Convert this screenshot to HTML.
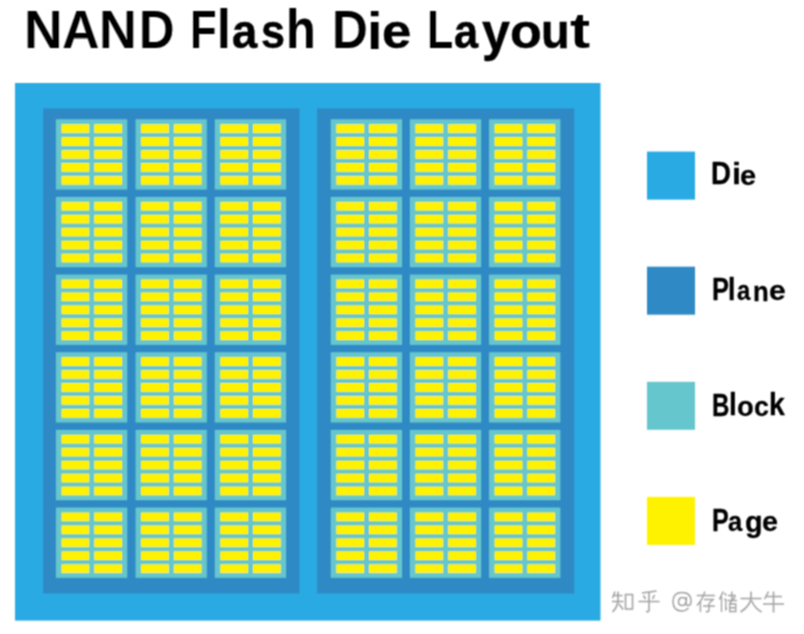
<!DOCTYPE html>
<html><head><meta charset="utf-8">
<style>
html,body{margin:0;padding:0;background:#fff;}
body{width:804px;height:634px;position:relative;overflow:hidden;font-family:"Liberation Sans",sans-serif;}
svg{position:absolute;left:0;top:0;}
.t{position:absolute;white-space:nowrap;color:#000;font-weight:bold;line-height:1;transform-origin:0 0;}
.k{-webkit-text-stroke:0.1px #fff;}
.m{-webkit-text-stroke:0.3px #000;}
.m2{-webkit-text-stroke:0.5px #000;}
#wrap{position:absolute;left:0;top:0;width:804px;height:634px;filter:url(#bl);}
</style></head><body>
<svg width="0" height="0" style="position:absolute;left:0;top:0"><defs><filter id="bl" x="0" y="0" width="804" height="634" filterUnits="userSpaceOnUse"><feConvolveMatrix order="3" kernelMatrix="1 2 1 2 4 2 1 2 1" divisor="16" edgeMode="duplicate"/></filter></defs></svg>
<div id="wrap">
<svg width="804" height="634" viewBox="0 0 804 634" shape-rendering="geometricPrecision">
<rect x="15.00" y="83.00" width="585.50" height="537.60" fill="#29AAE2"/>
<rect x="43.00" y="108.40" width="256.50" height="485.10" fill="#2E89C4"/>
<rect x="317.00" y="108.40" width="257.20" height="485.10" fill="#2E89C4"/>
<rect x="56.00" y="119.30" width="71.20" height="70.20" fill="#66C6CE"/>
<rect x="56.00" y="196.96" width="71.20" height="70.20" fill="#66C6CE"/>
<rect x="56.00" y="274.62" width="71.20" height="70.20" fill="#66C6CE"/>
<rect x="56.00" y="352.28" width="71.20" height="70.20" fill="#66C6CE"/>
<rect x="56.00" y="429.94" width="71.20" height="70.20" fill="#66C6CE"/>
<rect x="56.00" y="507.60" width="71.20" height="70.20" fill="#66C6CE"/>
<rect x="135.60" y="119.30" width="71.20" height="70.20" fill="#66C6CE"/>
<rect x="135.60" y="196.96" width="71.20" height="70.20" fill="#66C6CE"/>
<rect x="135.60" y="274.62" width="71.20" height="70.20" fill="#66C6CE"/>
<rect x="135.60" y="352.28" width="71.20" height="70.20" fill="#66C6CE"/>
<rect x="135.60" y="429.94" width="71.20" height="70.20" fill="#66C6CE"/>
<rect x="135.60" y="507.60" width="71.20" height="70.20" fill="#66C6CE"/>
<rect x="214.80" y="119.30" width="71.20" height="70.20" fill="#66C6CE"/>
<rect x="214.80" y="196.96" width="71.20" height="70.20" fill="#66C6CE"/>
<rect x="214.80" y="274.62" width="71.20" height="70.20" fill="#66C6CE"/>
<rect x="214.80" y="352.28" width="71.20" height="70.20" fill="#66C6CE"/>
<rect x="214.80" y="429.94" width="71.20" height="70.20" fill="#66C6CE"/>
<rect x="214.80" y="507.60" width="71.20" height="70.20" fill="#66C6CE"/>
<rect x="330.80" y="119.30" width="71.20" height="70.20" fill="#66C6CE"/>
<rect x="330.80" y="196.96" width="71.20" height="70.20" fill="#66C6CE"/>
<rect x="330.80" y="274.62" width="71.20" height="70.20" fill="#66C6CE"/>
<rect x="330.80" y="352.28" width="71.20" height="70.20" fill="#66C6CE"/>
<rect x="330.80" y="429.94" width="71.20" height="70.20" fill="#66C6CE"/>
<rect x="330.80" y="507.60" width="71.20" height="70.20" fill="#66C6CE"/>
<rect x="409.90" y="119.30" width="71.20" height="70.20" fill="#66C6CE"/>
<rect x="409.90" y="196.96" width="71.20" height="70.20" fill="#66C6CE"/>
<rect x="409.90" y="274.62" width="71.20" height="70.20" fill="#66C6CE"/>
<rect x="409.90" y="352.28" width="71.20" height="70.20" fill="#66C6CE"/>
<rect x="409.90" y="429.94" width="71.20" height="70.20" fill="#66C6CE"/>
<rect x="409.90" y="507.60" width="71.20" height="70.20" fill="#66C6CE"/>
<rect x="489.10" y="119.30" width="71.20" height="70.20" fill="#66C6CE"/>
<rect x="489.10" y="196.96" width="71.20" height="70.20" fill="#66C6CE"/>
<rect x="489.10" y="274.62" width="71.20" height="70.20" fill="#66C6CE"/>
<rect x="489.10" y="352.28" width="71.20" height="70.20" fill="#66C6CE"/>
<rect x="489.10" y="429.94" width="71.20" height="70.20" fill="#66C6CE"/>
<rect x="489.10" y="507.60" width="71.20" height="70.20" fill="#66C6CE"/>
<rect x="61.50" y="124.15" width="27.80" height="8.80" fill="#FFF200"/>
<rect x="94.20" y="124.15" width="27.80" height="8.80" fill="#FFF200"/>
<rect x="61.50" y="137.10" width="27.80" height="8.80" fill="#FFF200"/>
<rect x="94.20" y="137.10" width="27.80" height="8.80" fill="#FFF200"/>
<rect x="61.50" y="150.05" width="27.80" height="8.80" fill="#FFF200"/>
<rect x="94.20" y="150.05" width="27.80" height="8.80" fill="#FFF200"/>
<rect x="61.50" y="163.00" width="27.80" height="8.80" fill="#FFF200"/>
<rect x="94.20" y="163.00" width="27.80" height="8.80" fill="#FFF200"/>
<rect x="61.50" y="175.95" width="27.80" height="8.80" fill="#FFF200"/>
<rect x="94.20" y="175.95" width="27.80" height="8.80" fill="#FFF200"/>
<rect x="61.50" y="201.81" width="27.80" height="8.80" fill="#FFF200"/>
<rect x="94.20" y="201.81" width="27.80" height="8.80" fill="#FFF200"/>
<rect x="61.50" y="214.76" width="27.80" height="8.80" fill="#FFF200"/>
<rect x="94.20" y="214.76" width="27.80" height="8.80" fill="#FFF200"/>
<rect x="61.50" y="227.71" width="27.80" height="8.80" fill="#FFF200"/>
<rect x="94.20" y="227.71" width="27.80" height="8.80" fill="#FFF200"/>
<rect x="61.50" y="240.66" width="27.80" height="8.80" fill="#FFF200"/>
<rect x="94.20" y="240.66" width="27.80" height="8.80" fill="#FFF200"/>
<rect x="61.50" y="253.61" width="27.80" height="8.80" fill="#FFF200"/>
<rect x="94.20" y="253.61" width="27.80" height="8.80" fill="#FFF200"/>
<rect x="61.50" y="279.47" width="27.80" height="8.80" fill="#FFF200"/>
<rect x="94.20" y="279.47" width="27.80" height="8.80" fill="#FFF200"/>
<rect x="61.50" y="292.42" width="27.80" height="8.80" fill="#FFF200"/>
<rect x="94.20" y="292.42" width="27.80" height="8.80" fill="#FFF200"/>
<rect x="61.50" y="305.37" width="27.80" height="8.80" fill="#FFF200"/>
<rect x="94.20" y="305.37" width="27.80" height="8.80" fill="#FFF200"/>
<rect x="61.50" y="318.32" width="27.80" height="8.80" fill="#FFF200"/>
<rect x="94.20" y="318.32" width="27.80" height="8.80" fill="#FFF200"/>
<rect x="61.50" y="331.27" width="27.80" height="8.80" fill="#FFF200"/>
<rect x="94.20" y="331.27" width="27.80" height="8.80" fill="#FFF200"/>
<rect x="61.50" y="357.13" width="27.80" height="8.80" fill="#FFF200"/>
<rect x="94.20" y="357.13" width="27.80" height="8.80" fill="#FFF200"/>
<rect x="61.50" y="370.08" width="27.80" height="8.80" fill="#FFF200"/>
<rect x="94.20" y="370.08" width="27.80" height="8.80" fill="#FFF200"/>
<rect x="61.50" y="383.03" width="27.80" height="8.80" fill="#FFF200"/>
<rect x="94.20" y="383.03" width="27.80" height="8.80" fill="#FFF200"/>
<rect x="61.50" y="395.98" width="27.80" height="8.80" fill="#FFF200"/>
<rect x="94.20" y="395.98" width="27.80" height="8.80" fill="#FFF200"/>
<rect x="61.50" y="408.93" width="27.80" height="8.80" fill="#FFF200"/>
<rect x="94.20" y="408.93" width="27.80" height="8.80" fill="#FFF200"/>
<rect x="61.50" y="434.79" width="27.80" height="8.80" fill="#FFF200"/>
<rect x="94.20" y="434.79" width="27.80" height="8.80" fill="#FFF200"/>
<rect x="61.50" y="447.74" width="27.80" height="8.80" fill="#FFF200"/>
<rect x="94.20" y="447.74" width="27.80" height="8.80" fill="#FFF200"/>
<rect x="61.50" y="460.69" width="27.80" height="8.80" fill="#FFF200"/>
<rect x="94.20" y="460.69" width="27.80" height="8.80" fill="#FFF200"/>
<rect x="61.50" y="473.64" width="27.80" height="8.80" fill="#FFF200"/>
<rect x="94.20" y="473.64" width="27.80" height="8.80" fill="#FFF200"/>
<rect x="61.50" y="486.59" width="27.80" height="8.80" fill="#FFF200"/>
<rect x="94.20" y="486.59" width="27.80" height="8.80" fill="#FFF200"/>
<rect x="61.50" y="512.45" width="27.80" height="8.80" fill="#FFF200"/>
<rect x="94.20" y="512.45" width="27.80" height="8.80" fill="#FFF200"/>
<rect x="61.50" y="525.40" width="27.80" height="8.80" fill="#FFF200"/>
<rect x="94.20" y="525.40" width="27.80" height="8.80" fill="#FFF200"/>
<rect x="61.50" y="538.35" width="27.80" height="8.80" fill="#FFF200"/>
<rect x="94.20" y="538.35" width="27.80" height="8.80" fill="#FFF200"/>
<rect x="61.50" y="551.30" width="27.80" height="8.80" fill="#FFF200"/>
<rect x="94.20" y="551.30" width="27.80" height="8.80" fill="#FFF200"/>
<rect x="61.50" y="564.25" width="27.80" height="8.80" fill="#FFF200"/>
<rect x="94.20" y="564.25" width="27.80" height="8.80" fill="#FFF200"/>
<rect x="141.10" y="124.15" width="27.80" height="8.80" fill="#FFF200"/>
<rect x="173.80" y="124.15" width="27.80" height="8.80" fill="#FFF200"/>
<rect x="141.10" y="137.10" width="27.80" height="8.80" fill="#FFF200"/>
<rect x="173.80" y="137.10" width="27.80" height="8.80" fill="#FFF200"/>
<rect x="141.10" y="150.05" width="27.80" height="8.80" fill="#FFF200"/>
<rect x="173.80" y="150.05" width="27.80" height="8.80" fill="#FFF200"/>
<rect x="141.10" y="163.00" width="27.80" height="8.80" fill="#FFF200"/>
<rect x="173.80" y="163.00" width="27.80" height="8.80" fill="#FFF200"/>
<rect x="141.10" y="175.95" width="27.80" height="8.80" fill="#FFF200"/>
<rect x="173.80" y="175.95" width="27.80" height="8.80" fill="#FFF200"/>
<rect x="141.10" y="201.81" width="27.80" height="8.80" fill="#FFF200"/>
<rect x="173.80" y="201.81" width="27.80" height="8.80" fill="#FFF200"/>
<rect x="141.10" y="214.76" width="27.80" height="8.80" fill="#FFF200"/>
<rect x="173.80" y="214.76" width="27.80" height="8.80" fill="#FFF200"/>
<rect x="141.10" y="227.71" width="27.80" height="8.80" fill="#FFF200"/>
<rect x="173.80" y="227.71" width="27.80" height="8.80" fill="#FFF200"/>
<rect x="141.10" y="240.66" width="27.80" height="8.80" fill="#FFF200"/>
<rect x="173.80" y="240.66" width="27.80" height="8.80" fill="#FFF200"/>
<rect x="141.10" y="253.61" width="27.80" height="8.80" fill="#FFF200"/>
<rect x="173.80" y="253.61" width="27.80" height="8.80" fill="#FFF200"/>
<rect x="141.10" y="279.47" width="27.80" height="8.80" fill="#FFF200"/>
<rect x="173.80" y="279.47" width="27.80" height="8.80" fill="#FFF200"/>
<rect x="141.10" y="292.42" width="27.80" height="8.80" fill="#FFF200"/>
<rect x="173.80" y="292.42" width="27.80" height="8.80" fill="#FFF200"/>
<rect x="141.10" y="305.37" width="27.80" height="8.80" fill="#FFF200"/>
<rect x="173.80" y="305.37" width="27.80" height="8.80" fill="#FFF200"/>
<rect x="141.10" y="318.32" width="27.80" height="8.80" fill="#FFF200"/>
<rect x="173.80" y="318.32" width="27.80" height="8.80" fill="#FFF200"/>
<rect x="141.10" y="331.27" width="27.80" height="8.80" fill="#FFF200"/>
<rect x="173.80" y="331.27" width="27.80" height="8.80" fill="#FFF200"/>
<rect x="141.10" y="357.13" width="27.80" height="8.80" fill="#FFF200"/>
<rect x="173.80" y="357.13" width="27.80" height="8.80" fill="#FFF200"/>
<rect x="141.10" y="370.08" width="27.80" height="8.80" fill="#FFF200"/>
<rect x="173.80" y="370.08" width="27.80" height="8.80" fill="#FFF200"/>
<rect x="141.10" y="383.03" width="27.80" height="8.80" fill="#FFF200"/>
<rect x="173.80" y="383.03" width="27.80" height="8.80" fill="#FFF200"/>
<rect x="141.10" y="395.98" width="27.80" height="8.80" fill="#FFF200"/>
<rect x="173.80" y="395.98" width="27.80" height="8.80" fill="#FFF200"/>
<rect x="141.10" y="408.93" width="27.80" height="8.80" fill="#FFF200"/>
<rect x="173.80" y="408.93" width="27.80" height="8.80" fill="#FFF200"/>
<rect x="141.10" y="434.79" width="27.80" height="8.80" fill="#FFF200"/>
<rect x="173.80" y="434.79" width="27.80" height="8.80" fill="#FFF200"/>
<rect x="141.10" y="447.74" width="27.80" height="8.80" fill="#FFF200"/>
<rect x="173.80" y="447.74" width="27.80" height="8.80" fill="#FFF200"/>
<rect x="141.10" y="460.69" width="27.80" height="8.80" fill="#FFF200"/>
<rect x="173.80" y="460.69" width="27.80" height="8.80" fill="#FFF200"/>
<rect x="141.10" y="473.64" width="27.80" height="8.80" fill="#FFF200"/>
<rect x="173.80" y="473.64" width="27.80" height="8.80" fill="#FFF200"/>
<rect x="141.10" y="486.59" width="27.80" height="8.80" fill="#FFF200"/>
<rect x="173.80" y="486.59" width="27.80" height="8.80" fill="#FFF200"/>
<rect x="141.10" y="512.45" width="27.80" height="8.80" fill="#FFF200"/>
<rect x="173.80" y="512.45" width="27.80" height="8.80" fill="#FFF200"/>
<rect x="141.10" y="525.40" width="27.80" height="8.80" fill="#FFF200"/>
<rect x="173.80" y="525.40" width="27.80" height="8.80" fill="#FFF200"/>
<rect x="141.10" y="538.35" width="27.80" height="8.80" fill="#FFF200"/>
<rect x="173.80" y="538.35" width="27.80" height="8.80" fill="#FFF200"/>
<rect x="141.10" y="551.30" width="27.80" height="8.80" fill="#FFF200"/>
<rect x="173.80" y="551.30" width="27.80" height="8.80" fill="#FFF200"/>
<rect x="141.10" y="564.25" width="27.80" height="8.80" fill="#FFF200"/>
<rect x="173.80" y="564.25" width="27.80" height="8.80" fill="#FFF200"/>
<rect x="220.30" y="124.15" width="27.80" height="8.80" fill="#FFF200"/>
<rect x="253.00" y="124.15" width="27.80" height="8.80" fill="#FFF200"/>
<rect x="220.30" y="137.10" width="27.80" height="8.80" fill="#FFF200"/>
<rect x="253.00" y="137.10" width="27.80" height="8.80" fill="#FFF200"/>
<rect x="220.30" y="150.05" width="27.80" height="8.80" fill="#FFF200"/>
<rect x="253.00" y="150.05" width="27.80" height="8.80" fill="#FFF200"/>
<rect x="220.30" y="163.00" width="27.80" height="8.80" fill="#FFF200"/>
<rect x="253.00" y="163.00" width="27.80" height="8.80" fill="#FFF200"/>
<rect x="220.30" y="175.95" width="27.80" height="8.80" fill="#FFF200"/>
<rect x="253.00" y="175.95" width="27.80" height="8.80" fill="#FFF200"/>
<rect x="220.30" y="201.81" width="27.80" height="8.80" fill="#FFF200"/>
<rect x="253.00" y="201.81" width="27.80" height="8.80" fill="#FFF200"/>
<rect x="220.30" y="214.76" width="27.80" height="8.80" fill="#FFF200"/>
<rect x="253.00" y="214.76" width="27.80" height="8.80" fill="#FFF200"/>
<rect x="220.30" y="227.71" width="27.80" height="8.80" fill="#FFF200"/>
<rect x="253.00" y="227.71" width="27.80" height="8.80" fill="#FFF200"/>
<rect x="220.30" y="240.66" width="27.80" height="8.80" fill="#FFF200"/>
<rect x="253.00" y="240.66" width="27.80" height="8.80" fill="#FFF200"/>
<rect x="220.30" y="253.61" width="27.80" height="8.80" fill="#FFF200"/>
<rect x="253.00" y="253.61" width="27.80" height="8.80" fill="#FFF200"/>
<rect x="220.30" y="279.47" width="27.80" height="8.80" fill="#FFF200"/>
<rect x="253.00" y="279.47" width="27.80" height="8.80" fill="#FFF200"/>
<rect x="220.30" y="292.42" width="27.80" height="8.80" fill="#FFF200"/>
<rect x="253.00" y="292.42" width="27.80" height="8.80" fill="#FFF200"/>
<rect x="220.30" y="305.37" width="27.80" height="8.80" fill="#FFF200"/>
<rect x="253.00" y="305.37" width="27.80" height="8.80" fill="#FFF200"/>
<rect x="220.30" y="318.32" width="27.80" height="8.80" fill="#FFF200"/>
<rect x="253.00" y="318.32" width="27.80" height="8.80" fill="#FFF200"/>
<rect x="220.30" y="331.27" width="27.80" height="8.80" fill="#FFF200"/>
<rect x="253.00" y="331.27" width="27.80" height="8.80" fill="#FFF200"/>
<rect x="220.30" y="357.13" width="27.80" height="8.80" fill="#FFF200"/>
<rect x="253.00" y="357.13" width="27.80" height="8.80" fill="#FFF200"/>
<rect x="220.30" y="370.08" width="27.80" height="8.80" fill="#FFF200"/>
<rect x="253.00" y="370.08" width="27.80" height="8.80" fill="#FFF200"/>
<rect x="220.30" y="383.03" width="27.80" height="8.80" fill="#FFF200"/>
<rect x="253.00" y="383.03" width="27.80" height="8.80" fill="#FFF200"/>
<rect x="220.30" y="395.98" width="27.80" height="8.80" fill="#FFF200"/>
<rect x="253.00" y="395.98" width="27.80" height="8.80" fill="#FFF200"/>
<rect x="220.30" y="408.93" width="27.80" height="8.80" fill="#FFF200"/>
<rect x="253.00" y="408.93" width="27.80" height="8.80" fill="#FFF200"/>
<rect x="220.30" y="434.79" width="27.80" height="8.80" fill="#FFF200"/>
<rect x="253.00" y="434.79" width="27.80" height="8.80" fill="#FFF200"/>
<rect x="220.30" y="447.74" width="27.80" height="8.80" fill="#FFF200"/>
<rect x="253.00" y="447.74" width="27.80" height="8.80" fill="#FFF200"/>
<rect x="220.30" y="460.69" width="27.80" height="8.80" fill="#FFF200"/>
<rect x="253.00" y="460.69" width="27.80" height="8.80" fill="#FFF200"/>
<rect x="220.30" y="473.64" width="27.80" height="8.80" fill="#FFF200"/>
<rect x="253.00" y="473.64" width="27.80" height="8.80" fill="#FFF200"/>
<rect x="220.30" y="486.59" width="27.80" height="8.80" fill="#FFF200"/>
<rect x="253.00" y="486.59" width="27.80" height="8.80" fill="#FFF200"/>
<rect x="220.30" y="512.45" width="27.80" height="8.80" fill="#FFF200"/>
<rect x="253.00" y="512.45" width="27.80" height="8.80" fill="#FFF200"/>
<rect x="220.30" y="525.40" width="27.80" height="8.80" fill="#FFF200"/>
<rect x="253.00" y="525.40" width="27.80" height="8.80" fill="#FFF200"/>
<rect x="220.30" y="538.35" width="27.80" height="8.80" fill="#FFF200"/>
<rect x="253.00" y="538.35" width="27.80" height="8.80" fill="#FFF200"/>
<rect x="220.30" y="551.30" width="27.80" height="8.80" fill="#FFF200"/>
<rect x="253.00" y="551.30" width="27.80" height="8.80" fill="#FFF200"/>
<rect x="220.30" y="564.25" width="27.80" height="8.80" fill="#FFF200"/>
<rect x="253.00" y="564.25" width="27.80" height="8.80" fill="#FFF200"/>
<rect x="336.30" y="124.15" width="27.80" height="8.80" fill="#FFF200"/>
<rect x="369.00" y="124.15" width="27.80" height="8.80" fill="#FFF200"/>
<rect x="336.30" y="137.10" width="27.80" height="8.80" fill="#FFF200"/>
<rect x="369.00" y="137.10" width="27.80" height="8.80" fill="#FFF200"/>
<rect x="336.30" y="150.05" width="27.80" height="8.80" fill="#FFF200"/>
<rect x="369.00" y="150.05" width="27.80" height="8.80" fill="#FFF200"/>
<rect x="336.30" y="163.00" width="27.80" height="8.80" fill="#FFF200"/>
<rect x="369.00" y="163.00" width="27.80" height="8.80" fill="#FFF200"/>
<rect x="336.30" y="175.95" width="27.80" height="8.80" fill="#FFF200"/>
<rect x="369.00" y="175.95" width="27.80" height="8.80" fill="#FFF200"/>
<rect x="336.30" y="201.81" width="27.80" height="8.80" fill="#FFF200"/>
<rect x="369.00" y="201.81" width="27.80" height="8.80" fill="#FFF200"/>
<rect x="336.30" y="214.76" width="27.80" height="8.80" fill="#FFF200"/>
<rect x="369.00" y="214.76" width="27.80" height="8.80" fill="#FFF200"/>
<rect x="336.30" y="227.71" width="27.80" height="8.80" fill="#FFF200"/>
<rect x="369.00" y="227.71" width="27.80" height="8.80" fill="#FFF200"/>
<rect x="336.30" y="240.66" width="27.80" height="8.80" fill="#FFF200"/>
<rect x="369.00" y="240.66" width="27.80" height="8.80" fill="#FFF200"/>
<rect x="336.30" y="253.61" width="27.80" height="8.80" fill="#FFF200"/>
<rect x="369.00" y="253.61" width="27.80" height="8.80" fill="#FFF200"/>
<rect x="336.30" y="279.47" width="27.80" height="8.80" fill="#FFF200"/>
<rect x="369.00" y="279.47" width="27.80" height="8.80" fill="#FFF200"/>
<rect x="336.30" y="292.42" width="27.80" height="8.80" fill="#FFF200"/>
<rect x="369.00" y="292.42" width="27.80" height="8.80" fill="#FFF200"/>
<rect x="336.30" y="305.37" width="27.80" height="8.80" fill="#FFF200"/>
<rect x="369.00" y="305.37" width="27.80" height="8.80" fill="#FFF200"/>
<rect x="336.30" y="318.32" width="27.80" height="8.80" fill="#FFF200"/>
<rect x="369.00" y="318.32" width="27.80" height="8.80" fill="#FFF200"/>
<rect x="336.30" y="331.27" width="27.80" height="8.80" fill="#FFF200"/>
<rect x="369.00" y="331.27" width="27.80" height="8.80" fill="#FFF200"/>
<rect x="336.30" y="357.13" width="27.80" height="8.80" fill="#FFF200"/>
<rect x="369.00" y="357.13" width="27.80" height="8.80" fill="#FFF200"/>
<rect x="336.30" y="370.08" width="27.80" height="8.80" fill="#FFF200"/>
<rect x="369.00" y="370.08" width="27.80" height="8.80" fill="#FFF200"/>
<rect x="336.30" y="383.03" width="27.80" height="8.80" fill="#FFF200"/>
<rect x="369.00" y="383.03" width="27.80" height="8.80" fill="#FFF200"/>
<rect x="336.30" y="395.98" width="27.80" height="8.80" fill="#FFF200"/>
<rect x="369.00" y="395.98" width="27.80" height="8.80" fill="#FFF200"/>
<rect x="336.30" y="408.93" width="27.80" height="8.80" fill="#FFF200"/>
<rect x="369.00" y="408.93" width="27.80" height="8.80" fill="#FFF200"/>
<rect x="336.30" y="434.79" width="27.80" height="8.80" fill="#FFF200"/>
<rect x="369.00" y="434.79" width="27.80" height="8.80" fill="#FFF200"/>
<rect x="336.30" y="447.74" width="27.80" height="8.80" fill="#FFF200"/>
<rect x="369.00" y="447.74" width="27.80" height="8.80" fill="#FFF200"/>
<rect x="336.30" y="460.69" width="27.80" height="8.80" fill="#FFF200"/>
<rect x="369.00" y="460.69" width="27.80" height="8.80" fill="#FFF200"/>
<rect x="336.30" y="473.64" width="27.80" height="8.80" fill="#FFF200"/>
<rect x="369.00" y="473.64" width="27.80" height="8.80" fill="#FFF200"/>
<rect x="336.30" y="486.59" width="27.80" height="8.80" fill="#FFF200"/>
<rect x="369.00" y="486.59" width="27.80" height="8.80" fill="#FFF200"/>
<rect x="336.30" y="512.45" width="27.80" height="8.80" fill="#FFF200"/>
<rect x="369.00" y="512.45" width="27.80" height="8.80" fill="#FFF200"/>
<rect x="336.30" y="525.40" width="27.80" height="8.80" fill="#FFF200"/>
<rect x="369.00" y="525.40" width="27.80" height="8.80" fill="#FFF200"/>
<rect x="336.30" y="538.35" width="27.80" height="8.80" fill="#FFF200"/>
<rect x="369.00" y="538.35" width="27.80" height="8.80" fill="#FFF200"/>
<rect x="336.30" y="551.30" width="27.80" height="8.80" fill="#FFF200"/>
<rect x="369.00" y="551.30" width="27.80" height="8.80" fill="#FFF200"/>
<rect x="336.30" y="564.25" width="27.80" height="8.80" fill="#FFF200"/>
<rect x="369.00" y="564.25" width="27.80" height="8.80" fill="#FFF200"/>
<rect x="415.40" y="124.15" width="27.80" height="8.80" fill="#FFF200"/>
<rect x="448.10" y="124.15" width="27.80" height="8.80" fill="#FFF200"/>
<rect x="415.40" y="137.10" width="27.80" height="8.80" fill="#FFF200"/>
<rect x="448.10" y="137.10" width="27.80" height="8.80" fill="#FFF200"/>
<rect x="415.40" y="150.05" width="27.80" height="8.80" fill="#FFF200"/>
<rect x="448.10" y="150.05" width="27.80" height="8.80" fill="#FFF200"/>
<rect x="415.40" y="163.00" width="27.80" height="8.80" fill="#FFF200"/>
<rect x="448.10" y="163.00" width="27.80" height="8.80" fill="#FFF200"/>
<rect x="415.40" y="175.95" width="27.80" height="8.80" fill="#FFF200"/>
<rect x="448.10" y="175.95" width="27.80" height="8.80" fill="#FFF200"/>
<rect x="415.40" y="201.81" width="27.80" height="8.80" fill="#FFF200"/>
<rect x="448.10" y="201.81" width="27.80" height="8.80" fill="#FFF200"/>
<rect x="415.40" y="214.76" width="27.80" height="8.80" fill="#FFF200"/>
<rect x="448.10" y="214.76" width="27.80" height="8.80" fill="#FFF200"/>
<rect x="415.40" y="227.71" width="27.80" height="8.80" fill="#FFF200"/>
<rect x="448.10" y="227.71" width="27.80" height="8.80" fill="#FFF200"/>
<rect x="415.40" y="240.66" width="27.80" height="8.80" fill="#FFF200"/>
<rect x="448.10" y="240.66" width="27.80" height="8.80" fill="#FFF200"/>
<rect x="415.40" y="253.61" width="27.80" height="8.80" fill="#FFF200"/>
<rect x="448.10" y="253.61" width="27.80" height="8.80" fill="#FFF200"/>
<rect x="415.40" y="279.47" width="27.80" height="8.80" fill="#FFF200"/>
<rect x="448.10" y="279.47" width="27.80" height="8.80" fill="#FFF200"/>
<rect x="415.40" y="292.42" width="27.80" height="8.80" fill="#FFF200"/>
<rect x="448.10" y="292.42" width="27.80" height="8.80" fill="#FFF200"/>
<rect x="415.40" y="305.37" width="27.80" height="8.80" fill="#FFF200"/>
<rect x="448.10" y="305.37" width="27.80" height="8.80" fill="#FFF200"/>
<rect x="415.40" y="318.32" width="27.80" height="8.80" fill="#FFF200"/>
<rect x="448.10" y="318.32" width="27.80" height="8.80" fill="#FFF200"/>
<rect x="415.40" y="331.27" width="27.80" height="8.80" fill="#FFF200"/>
<rect x="448.10" y="331.27" width="27.80" height="8.80" fill="#FFF200"/>
<rect x="415.40" y="357.13" width="27.80" height="8.80" fill="#FFF200"/>
<rect x="448.10" y="357.13" width="27.80" height="8.80" fill="#FFF200"/>
<rect x="415.40" y="370.08" width="27.80" height="8.80" fill="#FFF200"/>
<rect x="448.10" y="370.08" width="27.80" height="8.80" fill="#FFF200"/>
<rect x="415.40" y="383.03" width="27.80" height="8.80" fill="#FFF200"/>
<rect x="448.10" y="383.03" width="27.80" height="8.80" fill="#FFF200"/>
<rect x="415.40" y="395.98" width="27.80" height="8.80" fill="#FFF200"/>
<rect x="448.10" y="395.98" width="27.80" height="8.80" fill="#FFF200"/>
<rect x="415.40" y="408.93" width="27.80" height="8.80" fill="#FFF200"/>
<rect x="448.10" y="408.93" width="27.80" height="8.80" fill="#FFF200"/>
<rect x="415.40" y="434.79" width="27.80" height="8.80" fill="#FFF200"/>
<rect x="448.10" y="434.79" width="27.80" height="8.80" fill="#FFF200"/>
<rect x="415.40" y="447.74" width="27.80" height="8.80" fill="#FFF200"/>
<rect x="448.10" y="447.74" width="27.80" height="8.80" fill="#FFF200"/>
<rect x="415.40" y="460.69" width="27.80" height="8.80" fill="#FFF200"/>
<rect x="448.10" y="460.69" width="27.80" height="8.80" fill="#FFF200"/>
<rect x="415.40" y="473.64" width="27.80" height="8.80" fill="#FFF200"/>
<rect x="448.10" y="473.64" width="27.80" height="8.80" fill="#FFF200"/>
<rect x="415.40" y="486.59" width="27.80" height="8.80" fill="#FFF200"/>
<rect x="448.10" y="486.59" width="27.80" height="8.80" fill="#FFF200"/>
<rect x="415.40" y="512.45" width="27.80" height="8.80" fill="#FFF200"/>
<rect x="448.10" y="512.45" width="27.80" height="8.80" fill="#FFF200"/>
<rect x="415.40" y="525.40" width="27.80" height="8.80" fill="#FFF200"/>
<rect x="448.10" y="525.40" width="27.80" height="8.80" fill="#FFF200"/>
<rect x="415.40" y="538.35" width="27.80" height="8.80" fill="#FFF200"/>
<rect x="448.10" y="538.35" width="27.80" height="8.80" fill="#FFF200"/>
<rect x="415.40" y="551.30" width="27.80" height="8.80" fill="#FFF200"/>
<rect x="448.10" y="551.30" width="27.80" height="8.80" fill="#FFF200"/>
<rect x="415.40" y="564.25" width="27.80" height="8.80" fill="#FFF200"/>
<rect x="448.10" y="564.25" width="27.80" height="8.80" fill="#FFF200"/>
<rect x="494.60" y="124.15" width="27.80" height="8.80" fill="#FFF200"/>
<rect x="527.30" y="124.15" width="27.80" height="8.80" fill="#FFF200"/>
<rect x="494.60" y="137.10" width="27.80" height="8.80" fill="#FFF200"/>
<rect x="527.30" y="137.10" width="27.80" height="8.80" fill="#FFF200"/>
<rect x="494.60" y="150.05" width="27.80" height="8.80" fill="#FFF200"/>
<rect x="527.30" y="150.05" width="27.80" height="8.80" fill="#FFF200"/>
<rect x="494.60" y="163.00" width="27.80" height="8.80" fill="#FFF200"/>
<rect x="527.30" y="163.00" width="27.80" height="8.80" fill="#FFF200"/>
<rect x="494.60" y="175.95" width="27.80" height="8.80" fill="#FFF200"/>
<rect x="527.30" y="175.95" width="27.80" height="8.80" fill="#FFF200"/>
<rect x="494.60" y="201.81" width="27.80" height="8.80" fill="#FFF200"/>
<rect x="527.30" y="201.81" width="27.80" height="8.80" fill="#FFF200"/>
<rect x="494.60" y="214.76" width="27.80" height="8.80" fill="#FFF200"/>
<rect x="527.30" y="214.76" width="27.80" height="8.80" fill="#FFF200"/>
<rect x="494.60" y="227.71" width="27.80" height="8.80" fill="#FFF200"/>
<rect x="527.30" y="227.71" width="27.80" height="8.80" fill="#FFF200"/>
<rect x="494.60" y="240.66" width="27.80" height="8.80" fill="#FFF200"/>
<rect x="527.30" y="240.66" width="27.80" height="8.80" fill="#FFF200"/>
<rect x="494.60" y="253.61" width="27.80" height="8.80" fill="#FFF200"/>
<rect x="527.30" y="253.61" width="27.80" height="8.80" fill="#FFF200"/>
<rect x="494.60" y="279.47" width="27.80" height="8.80" fill="#FFF200"/>
<rect x="527.30" y="279.47" width="27.80" height="8.80" fill="#FFF200"/>
<rect x="494.60" y="292.42" width="27.80" height="8.80" fill="#FFF200"/>
<rect x="527.30" y="292.42" width="27.80" height="8.80" fill="#FFF200"/>
<rect x="494.60" y="305.37" width="27.80" height="8.80" fill="#FFF200"/>
<rect x="527.30" y="305.37" width="27.80" height="8.80" fill="#FFF200"/>
<rect x="494.60" y="318.32" width="27.80" height="8.80" fill="#FFF200"/>
<rect x="527.30" y="318.32" width="27.80" height="8.80" fill="#FFF200"/>
<rect x="494.60" y="331.27" width="27.80" height="8.80" fill="#FFF200"/>
<rect x="527.30" y="331.27" width="27.80" height="8.80" fill="#FFF200"/>
<rect x="494.60" y="357.13" width="27.80" height="8.80" fill="#FFF200"/>
<rect x="527.30" y="357.13" width="27.80" height="8.80" fill="#FFF200"/>
<rect x="494.60" y="370.08" width="27.80" height="8.80" fill="#FFF200"/>
<rect x="527.30" y="370.08" width="27.80" height="8.80" fill="#FFF200"/>
<rect x="494.60" y="383.03" width="27.80" height="8.80" fill="#FFF200"/>
<rect x="527.30" y="383.03" width="27.80" height="8.80" fill="#FFF200"/>
<rect x="494.60" y="395.98" width="27.80" height="8.80" fill="#FFF200"/>
<rect x="527.30" y="395.98" width="27.80" height="8.80" fill="#FFF200"/>
<rect x="494.60" y="408.93" width="27.80" height="8.80" fill="#FFF200"/>
<rect x="527.30" y="408.93" width="27.80" height="8.80" fill="#FFF200"/>
<rect x="494.60" y="434.79" width="27.80" height="8.80" fill="#FFF200"/>
<rect x="527.30" y="434.79" width="27.80" height="8.80" fill="#FFF200"/>
<rect x="494.60" y="447.74" width="27.80" height="8.80" fill="#FFF200"/>
<rect x="527.30" y="447.74" width="27.80" height="8.80" fill="#FFF200"/>
<rect x="494.60" y="460.69" width="27.80" height="8.80" fill="#FFF200"/>
<rect x="527.30" y="460.69" width="27.80" height="8.80" fill="#FFF200"/>
<rect x="494.60" y="473.64" width="27.80" height="8.80" fill="#FFF200"/>
<rect x="527.30" y="473.64" width="27.80" height="8.80" fill="#FFF200"/>
<rect x="494.60" y="486.59" width="27.80" height="8.80" fill="#FFF200"/>
<rect x="527.30" y="486.59" width="27.80" height="8.80" fill="#FFF200"/>
<rect x="494.60" y="512.45" width="27.80" height="8.80" fill="#FFF200"/>
<rect x="527.30" y="512.45" width="27.80" height="8.80" fill="#FFF200"/>
<rect x="494.60" y="525.40" width="27.80" height="8.80" fill="#FFF200"/>
<rect x="527.30" y="525.40" width="27.80" height="8.80" fill="#FFF200"/>
<rect x="494.60" y="538.35" width="27.80" height="8.80" fill="#FFF200"/>
<rect x="527.30" y="538.35" width="27.80" height="8.80" fill="#FFF200"/>
<rect x="494.60" y="551.30" width="27.80" height="8.80" fill="#FFF200"/>
<rect x="527.30" y="551.30" width="27.80" height="8.80" fill="#FFF200"/>
<rect x="494.60" y="564.25" width="27.80" height="8.80" fill="#FFF200"/>
<rect x="527.30" y="564.25" width="27.80" height="8.80" fill="#FFF200"/>
<rect x="647.00" y="151.60" width="48.00" height="48.00" fill="#29AAE2"/>
<rect x="647.00" y="266.70" width="48.00" height="48.00" fill="#2E89C4"/>
<rect x="647.00" y="381.80" width="48.00" height="48.00" fill="#66C6CE"/>
<rect x="647.00" y="496.90" width="48.00" height="48.00" fill="#FFF200"/>
<g transform="translate(611.5,590.5) scale(1,1)"><path d="M3.5,1 L1,7.5 M2,5 L11,5 M0.5,11 L12,11 M6.5,1 L6.5,11 Q5.5,17 1,21.5 M7.5,13.5 L11.5,19 M14,4 L21,4 L21,18.5 L14,18.5 Z" transform="translate(0.8,0.8)" fill="none" stroke="#f6f6f6" stroke-width="1.5"/><path d="M3.5,1 L1,7.5 M2,5 L11,5 M0.5,11 L12,11 M6.5,1 L6.5,11 Q5.5,17 1,21.5 M7.5,13.5 L11.5,19 M14,4 L21,4 L21,18.5 L14,18.5 Z" fill="none" stroke="#a2a2a2" stroke-width="1.55"/></g>
<g transform="translate(638,590.5) scale(1,1)"><path d="M4,2.5 L18.5,0.5 M5.5,5 L7.5,8.5 M16.5,4.5 L14.5,8.5 M0.5,11 L21.5,11 M11,2 L11,20 Q11,21.5 8,21" transform="translate(0.8,0.8)" fill="none" stroke="#f6f6f6" stroke-width="1.5"/><path d="M4,2.5 L18.5,0.5 M5.5,5 L7.5,8.5 M16.5,4.5 L14.5,8.5 M0.5,11 L21.5,11 M11,2 L11,20 Q11,21.5 8,21" fill="none" stroke="#a2a2a2" stroke-width="1.55"/></g>
<g transform="translate(671.5,590.5) scale(1,1)"><path d="M17,17.5 Q14,20.5 10.5,20.5 Q1.5,20.5 1.5,11 Q1.5,2 10.5,2 Q19.5,2 19.5,10.5 Q19.5,15 16.5,15 Q14.5,15 14.5,12.5 L15,6.5 M14.5,11 Q14,15 10.5,15 Q7,15 7,11.5 Q7,7 11,7 Q14.5,7 14.5,10" transform="translate(0.8,0.8)" fill="none" stroke="#f6f6f6" stroke-width="1.5"/><path d="M17,17.5 Q14,20.5 10.5,20.5 Q1.5,20.5 1.5,11 Q1.5,2 10.5,2 Q19.5,2 19.5,10.5 Q19.5,15 16.5,15 Q14.5,15 14.5,12.5 L15,6.5 M14.5,11 Q14,15 10.5,15 Q7,15 7,11.5 Q7,7 11,7 Q14.5,7 14.5,10" fill="none" stroke="#a2a2a2" stroke-width="1.55"/></g>
<g transform="translate(695.9,590.5) scale(0.9,1)"><path d="M1,5 L21,5 M10,1 Q7,10 1,15 M5,10.5 L5,21.5 M9,9 L19,9 L14.5,13 M8,15.5 L21,15.5 M14.5,13 L14.5,20 Q14.5,21.5 11,21" transform="translate(0.8,0.8)" fill="none" stroke="#f6f6f6" stroke-width="1.5"/><path d="M1,5 L21,5 M10,1 Q7,10 1,15 M5,10.5 L5,21.5 M9,9 L19,9 L14.5,13 M8,15.5 L21,15.5 M14.5,13 L14.5,20 Q14.5,21.5 11,21" fill="none" stroke="#a2a2a2" stroke-width="1.55"/></g>
<g transform="translate(718.5,590.5) scale(0.86,1)"><path d="M5.5,1 L1,9 M3.5,6 L3.5,21.5 M7,2.5 L9,5 M6.5,9 L8.5,9 L8.5,19 L10,17.5 M11,5 L20,5 M15.5,1 L15.5,9 M10.5,10 L21.5,10 M19.5,6 L12.5,13.5 M13,13.5 L20,13.5 L20,21 L13,21 Z M13,17.3 L20,17.3" transform="translate(0.8,0.8)" fill="none" stroke="#f6f6f6" stroke-width="1.5"/><path d="M5.5,1 L1,9 M3.5,6 L3.5,21.5 M7,2.5 L9,5 M6.5,9 L8.5,9 L8.5,19 L10,17.5 M11,5 L20,5 M15.5,1 L15.5,9 M10.5,10 L21.5,10 M19.5,6 L12.5,13.5 M13,13.5 L20,13.5 L20,21 L13,21 Z M13,17.3 L20,17.3" fill="none" stroke="#a2a2a2" stroke-width="1.55"/></g>
<g transform="translate(740,590.5) scale(1,1)"><path d="M0.5,8 L21.5,8 M11,1 L11,8 Q9.5,16 0.5,21.5 M11.5,10 Q14.5,17.5 21.5,21.5" transform="translate(0.8,0.8)" fill="none" stroke="#f6f6f6" stroke-width="1.5"/><path d="M0.5,8 L21.5,8 M11,1 L11,8 Q9.5,16 0.5,21.5 M11.5,10 Q14.5,17.5 21.5,21.5" fill="none" stroke="#a2a2a2" stroke-width="1.55"/></g>
<g transform="translate(762.5,590.5) scale(1,1)"><path d="M6,1 L2,8.5 M4,6 L19.5,6 M0.5,13.5 L21.5,13.5 M11,1 L11,22" transform="translate(0.8,0.8)" fill="none" stroke="#f6f6f6" stroke-width="1.5"/><path d="M6,1 L2,8.5 M4,6 L19.5,6 M0.5,13.5 L21.5,13.5 M11,1 L11,22" fill="none" stroke="#a2a2a2" stroke-width="1.55"/></g>
</svg>
<div class="t k" style="left:24.16px;top:2.06px;font-size:54px;transform:scale(0.9921,1.0013)">N</div>
<div class="t k" style="left:61.55px;top:2.06px;font-size:54px;transform:scale(0.9619,1.0013)">A</div>
<div class="t k" style="left:99.04px;top:2.06px;font-size:54px;transform:scale(0.9700,1.0013)">N</div>
<div class="t k" style="left:138.55px;top:2.06px;font-size:54px;transform:scale(0.9108,1.0013)">D</div>
<div class="t k" style="left:190.12px;top:2.06px;font-size:54px;transform:scale(0.8093,1.0013)">F</div>
<div class="t" style="left:216.95px;top:0.94px;font-size:54px;transform:scale(0.9125,1.0257)">l</div>
<div class="t m2" style="left:231.64px;top:7.22px;font-size:54px;transform:scale(0.8424,0.8888)">a</div>
<div class="t m2" style="left:261.05px;top:7.22px;font-size:54px;transform:scale(0.7986,0.8888)">s</div>
<div class="t" style="left:285.59px;top:0.94px;font-size:54px;transform:scale(0.9027,1.0257)">h</div>
<div class="t k" style="left:331.62px;top:2.06px;font-size:54px;transform:scale(0.9199,1.0013)">D</div>
<div class="t" style="left:367.09px;top:4.57px;font-size:54px;transform:scale(1.0333,0.9464)">i</div>
<div class="t m2" style="left:381.80px;top:7.22px;font-size:54px;transform:scale(0.9720,0.8888)">e</div>
<div class="t k" style="left:427.15px;top:2.06px;font-size:54px;transform:scale(0.7998,1.0013)">L</div>
<div class="t m2" style="left:453.90px;top:7.22px;font-size:54px;transform:scale(0.8041,0.8888)">a</div>
<div class="t m2" style="left:482.20px;top:6.22px;font-size:54px;transform:scale(0.9293,0.9536)">y</div>
<div class="t m2" style="left:510.32px;top:7.22px;font-size:54px;transform:scale(0.9642,0.8888)">o</div>
<div class="t m2" style="left:540.89px;top:7.41px;font-size:54px;transform:scale(0.8683,0.8846)">u</div>
<div class="t" style="left:570.08px;top:5.73px;font-size:54px;transform:scale(1.1183,0.9231)">t</div>
<div class="t m" style="left:711.47px;top:158.49px;font-size:31px;transform:scale(0.8931,1.0034)">D</div>
<div class="t m" style="left:731.62px;top:160.14px;font-size:31px;transform:scale(1.0519,0.9401)">i</div>
<div class="t m" style="left:739.85px;top:161.87px;font-size:31px;transform:scale(0.9303,0.8830)">e</div>
<div class="t m" style="left:711.52px;top:274.09px;font-size:31px;transform:scale(0.8207,1.0034)">P</div>
<div class="t m" style="left:728.22px;top:273.76px;font-size:31px;transform:scale(0.8649,1.0159)">l</div>
<div class="t m" style="left:736.78px;top:277.47px;font-size:31px;transform:scale(0.7701,0.8830)">a</div>
<div class="t m" style="left:753.00px;top:277.60px;font-size:31px;transform:scale(0.8299,0.8694)">n</div>
<div class="t m" style="left:768.60px;top:277.47px;font-size:31px;transform:scale(0.9637,0.8830)">e</div>
<div class="t m" style="left:711.61px;top:389.79px;font-size:31px;transform:scale(0.7774,1.0034)">B</div>
<div class="t m" style="left:728.92px;top:389.46px;font-size:31px;transform:scale(0.9116,1.0159)">l</div>
<div class="t m" style="left:737.00px;top:393.17px;font-size:31px;transform:scale(0.8853,0.8830)">o</div>
<div class="t m" style="left:753.83px;top:393.17px;font-size:31px;transform:scale(0.8629,0.8830)">c</div>
<div class="t m" style="left:769.01px;top:389.46px;font-size:31px;transform:scale(0.9160,1.0159)">k</div>
<div class="t m" style="left:711.74px;top:505.09px;font-size:31px;transform:scale(0.8093,1.0034)">P</div>
<div class="t m" style="left:728.03px;top:508.47px;font-size:31px;transform:scale(0.8246,0.8830)">a</div>
<div class="t m" style="left:744.79px;top:507.99px;font-size:31px;transform:scale(0.9318,0.9333)">g</div>
<div class="t m" style="left:762.25px;top:508.47px;font-size:31px;transform:scale(0.9236,0.8830)">e</div>
</div>
</body></html>
